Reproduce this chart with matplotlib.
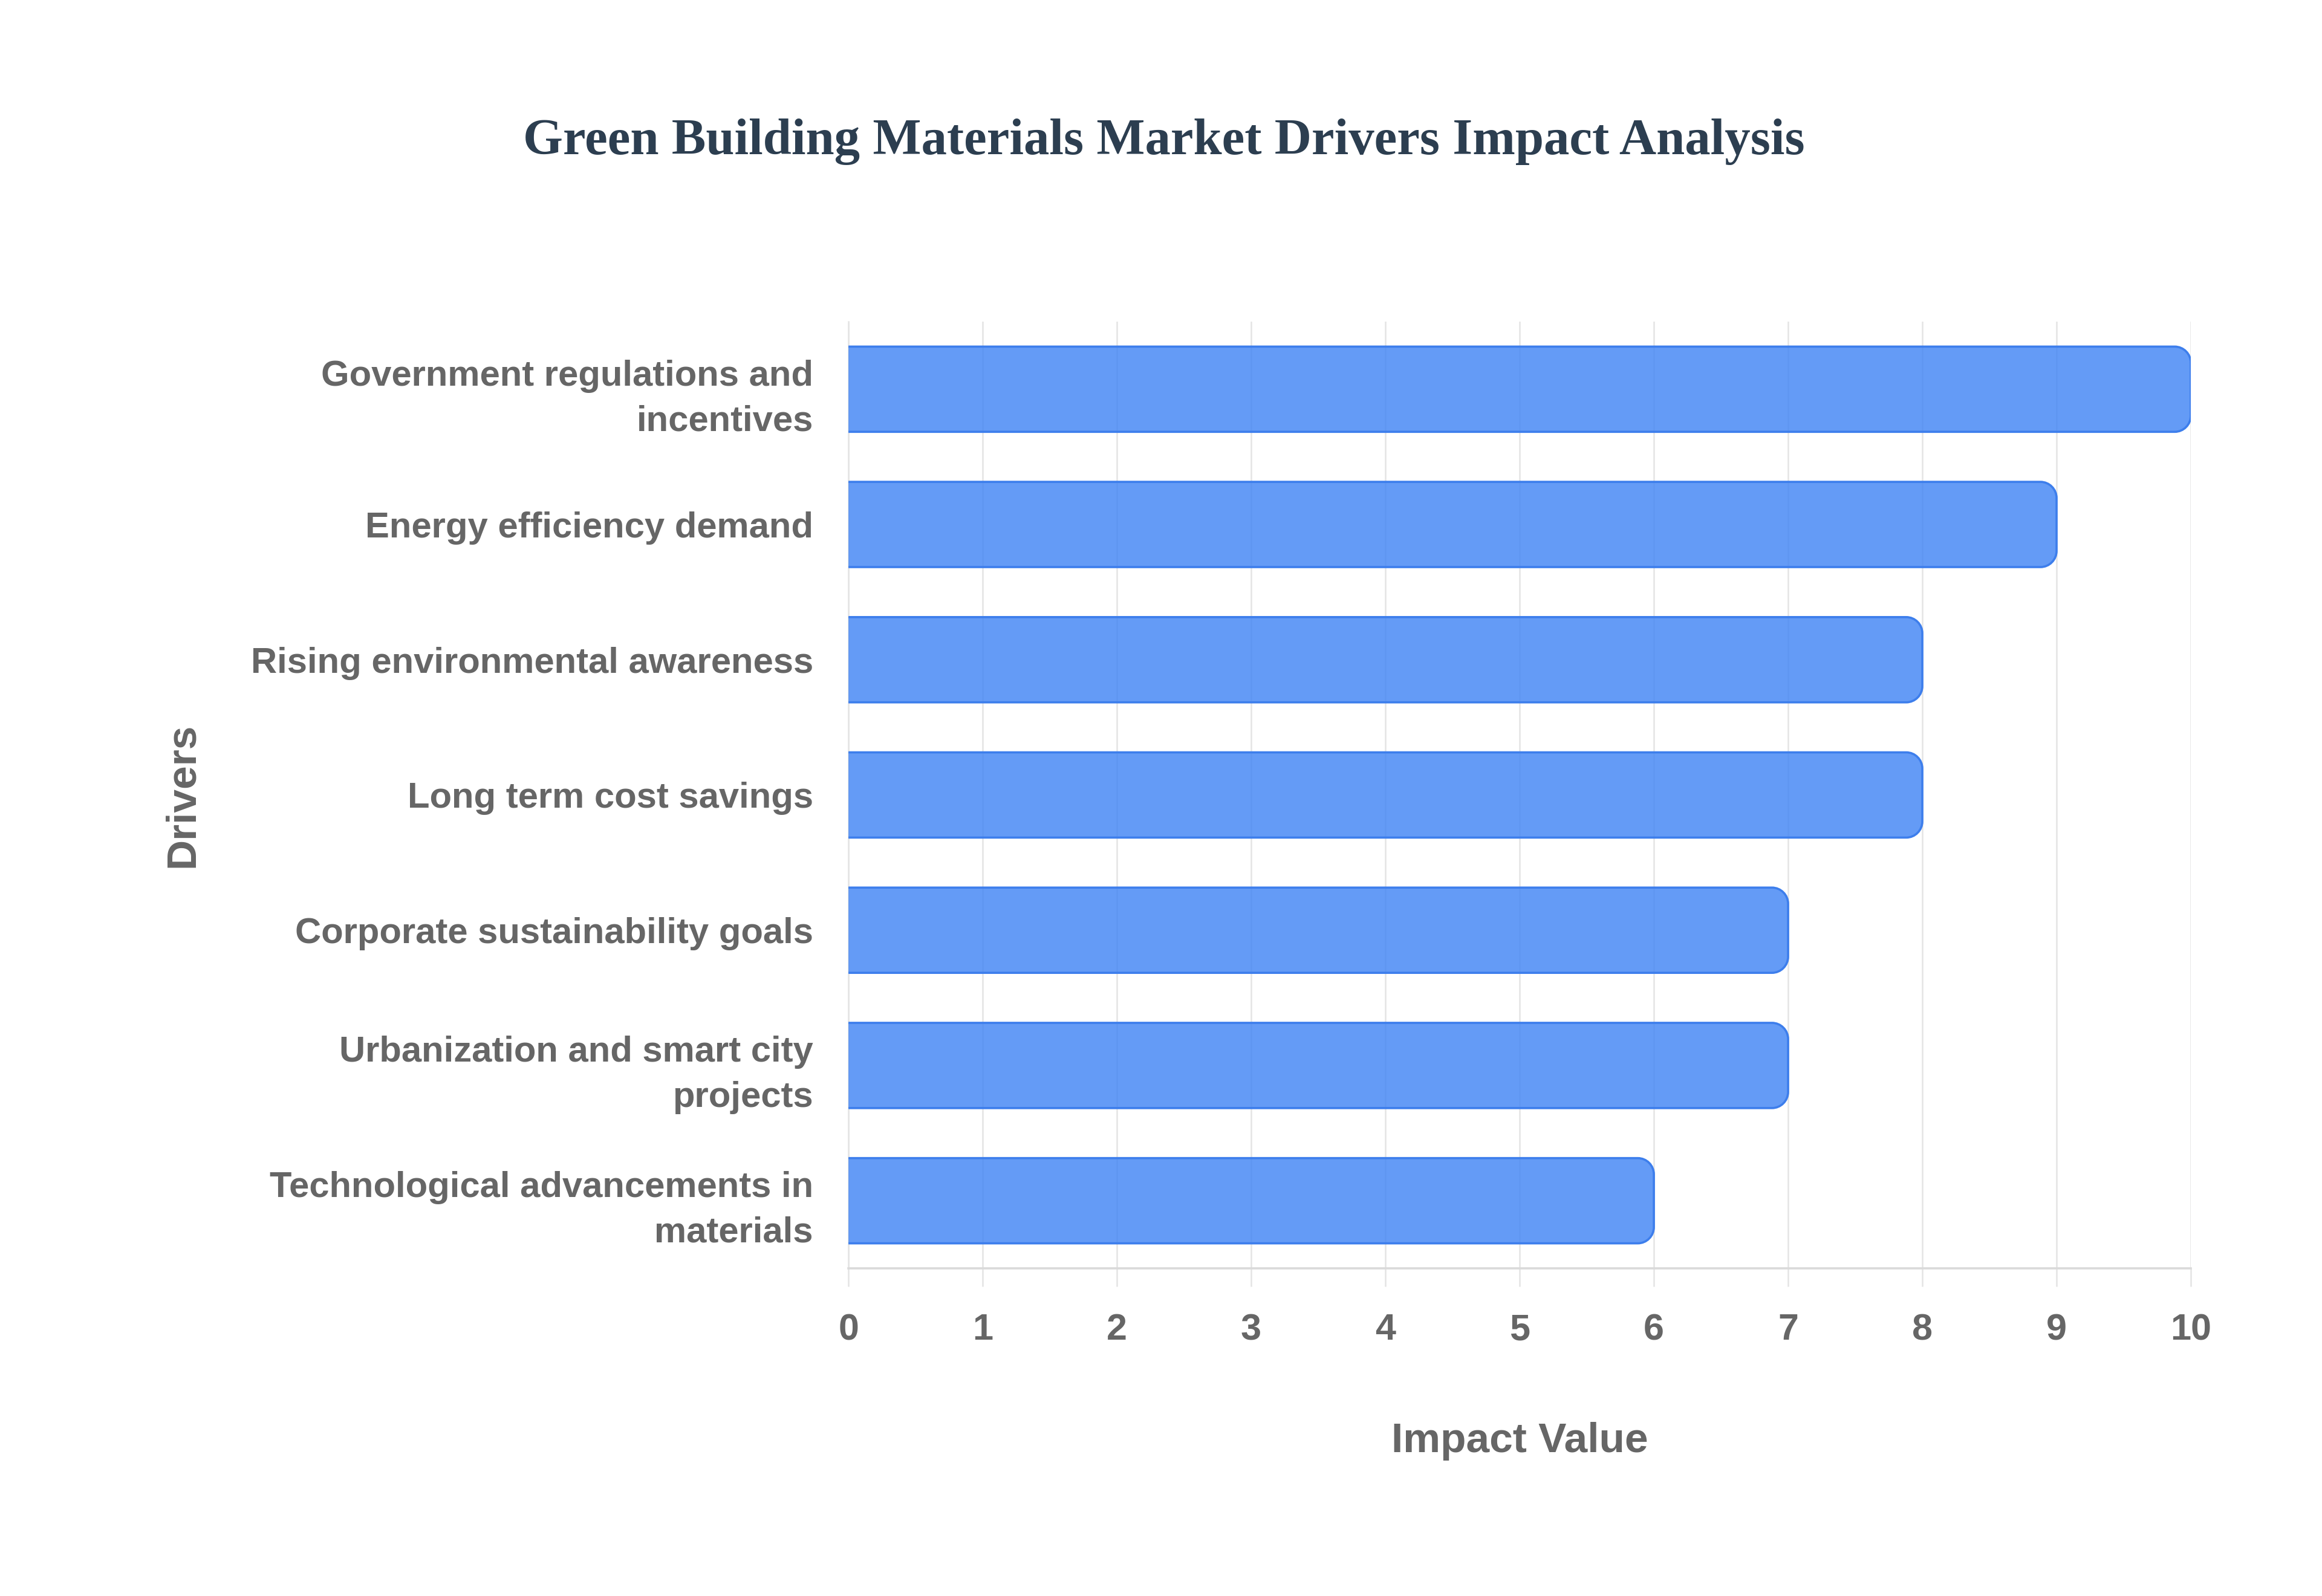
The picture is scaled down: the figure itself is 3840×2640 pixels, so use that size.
import matplotlib
matplotlib.use('Agg')
import matplotlib.pyplot as plt
from matplotlib.path import Path
from matplotlib.patches import PathPatch

# ---- data ----
drivers = [
    "Government regulations and\nincentives",
    "Energy efficiency demand",
    "Rising environmental awareness",
    "Long term cost savings",
    "Corporate sustainability goals",
    "Urbanization and smart city\nprojects",
    "Technological advancements in\nmaterials",
]
impact = [10, 9, 8, 8, 7, 7, 6]
x_ticks = [0, 1, 2, 3, 4, 5, 6, 7, 8, 9, 10]
title = "Green Building Materials Market Drivers Impact Analysis"
x_label = "Impact Value"
y_label = "Drivers"

# ---- style ----
SANS = ['Liberation Sans', 'DejaVu Sans']
SERIF = ['Liberation Serif', 'DejaVu Serif']
TXT = '#666666'
GRID = '#e4e4e4'
FILL = '#4285F4'
EDGE = '#3d7eec'

fig = plt.figure(figsize=(38.4, 26.4), dpi=100)
fig.patch.set_facecolor('white')
ax = fig.add_axes([0.3654, 0.2053, 0.5781, 0.5932])

pos = list(range(len(drivers)))
bars = ax.barh(pos, impact, height=0.63, color='none', edgecolor='none')

r = 0.12
k = 0.5523
for b in bars:
    x0 = b.get_x()
    y0 = b.get_y()
    w = b.get_width()
    h = b.get_height()
    y1 = y0 + h
    xr = x0 + w
    b.set_visible(False)
    verts = [
        (x0, y0), (xr - r, y0),
        (xr - r + k * r, y0), (xr, y0 + r - k * r), (xr, y0 + r),
        (xr, y1 - r),
        (xr, y1 - r + k * r), (xr - r + k * r, y1), (xr - r, y1),
        (x0, y1),
    ]
    codes = [Path.MOVETO, Path.LINETO,
             Path.CURVE4, Path.CURVE4, Path.CURVE4,
             Path.LINETO,
             Path.CURVE4, Path.CURVE4, Path.CURVE4,
             Path.LINETO]
    fill_path = Path(verts + [(x0, y0)], codes + [Path.CLOSEPOLY])
    ax.add_patch(PathPatch(fill_path, facecolor=FILL, alpha=0.82,
                           edgecolor='none', zorder=3))
    edge_path = Path(verts, codes)
    ax.add_patch(PathPatch(edge_path, facecolor='none', edgecolor=EDGE,
                           linewidth=2.6, zorder=4, capstyle='butt',
                           joinstyle='round'))

ax.set_xlim(x_ticks[0], x_ticks[-1])
ax.set_ylim(len(drivers) - 0.5, -0.5)
ax.set_xticks(x_ticks)
ax.set_yticks(pos)
ax.set_yticklabels(drivers, fontsize=43, fontweight='bold', color=TXT,
                   family=SANS, linespacing=1.45)
ax.set_xticklabels([str(t) for t in x_ticks], fontsize=44, fontweight='bold',
                   color=TXT, family=SANS)

ax.set_axisbelow(True)
ax.grid(axis='x', color=GRID, linewidth=1.8)
ax.grid(axis='y', visible=False)
ax.tick_params(axis='x', direction='out', length=21.6, width=1.8,
               color=GRID, pad=32)
ax.tick_params(axis='y', length=0, pad=42)

for s in ['top', 'right']:
    ax.spines[s].set_visible(False)
ax.spines['left'].set_color(GRID)
ax.spines['left'].set_linewidth(1.8)
ax.spines['bottom'].set_color('#dadada')
ax.spines['bottom'].set_linewidth(2.6)

ax.set_xlabel(x_label, fontsize=50, fontweight='bold', color=TXT, family=SANS)
ax.xaxis.label.set_va('baseline')
ax.xaxis.set_label_coords(0.5, -0.1941)
ax.set_ylabel(y_label, fontsize=50, fontweight='bold', color=TXT, family=SANS)
ax.yaxis.label.set_va('center')
ax.yaxis.set_label_coords(-0.496, 0.5)

fig.text(0.5013, 0.9034, title, ha='center', va='baseline', fontsize=61,
         fontweight='bold', color='#2c3e50', family=SERIF)

fig.savefig('out.png', dpi=100, facecolor='white')
